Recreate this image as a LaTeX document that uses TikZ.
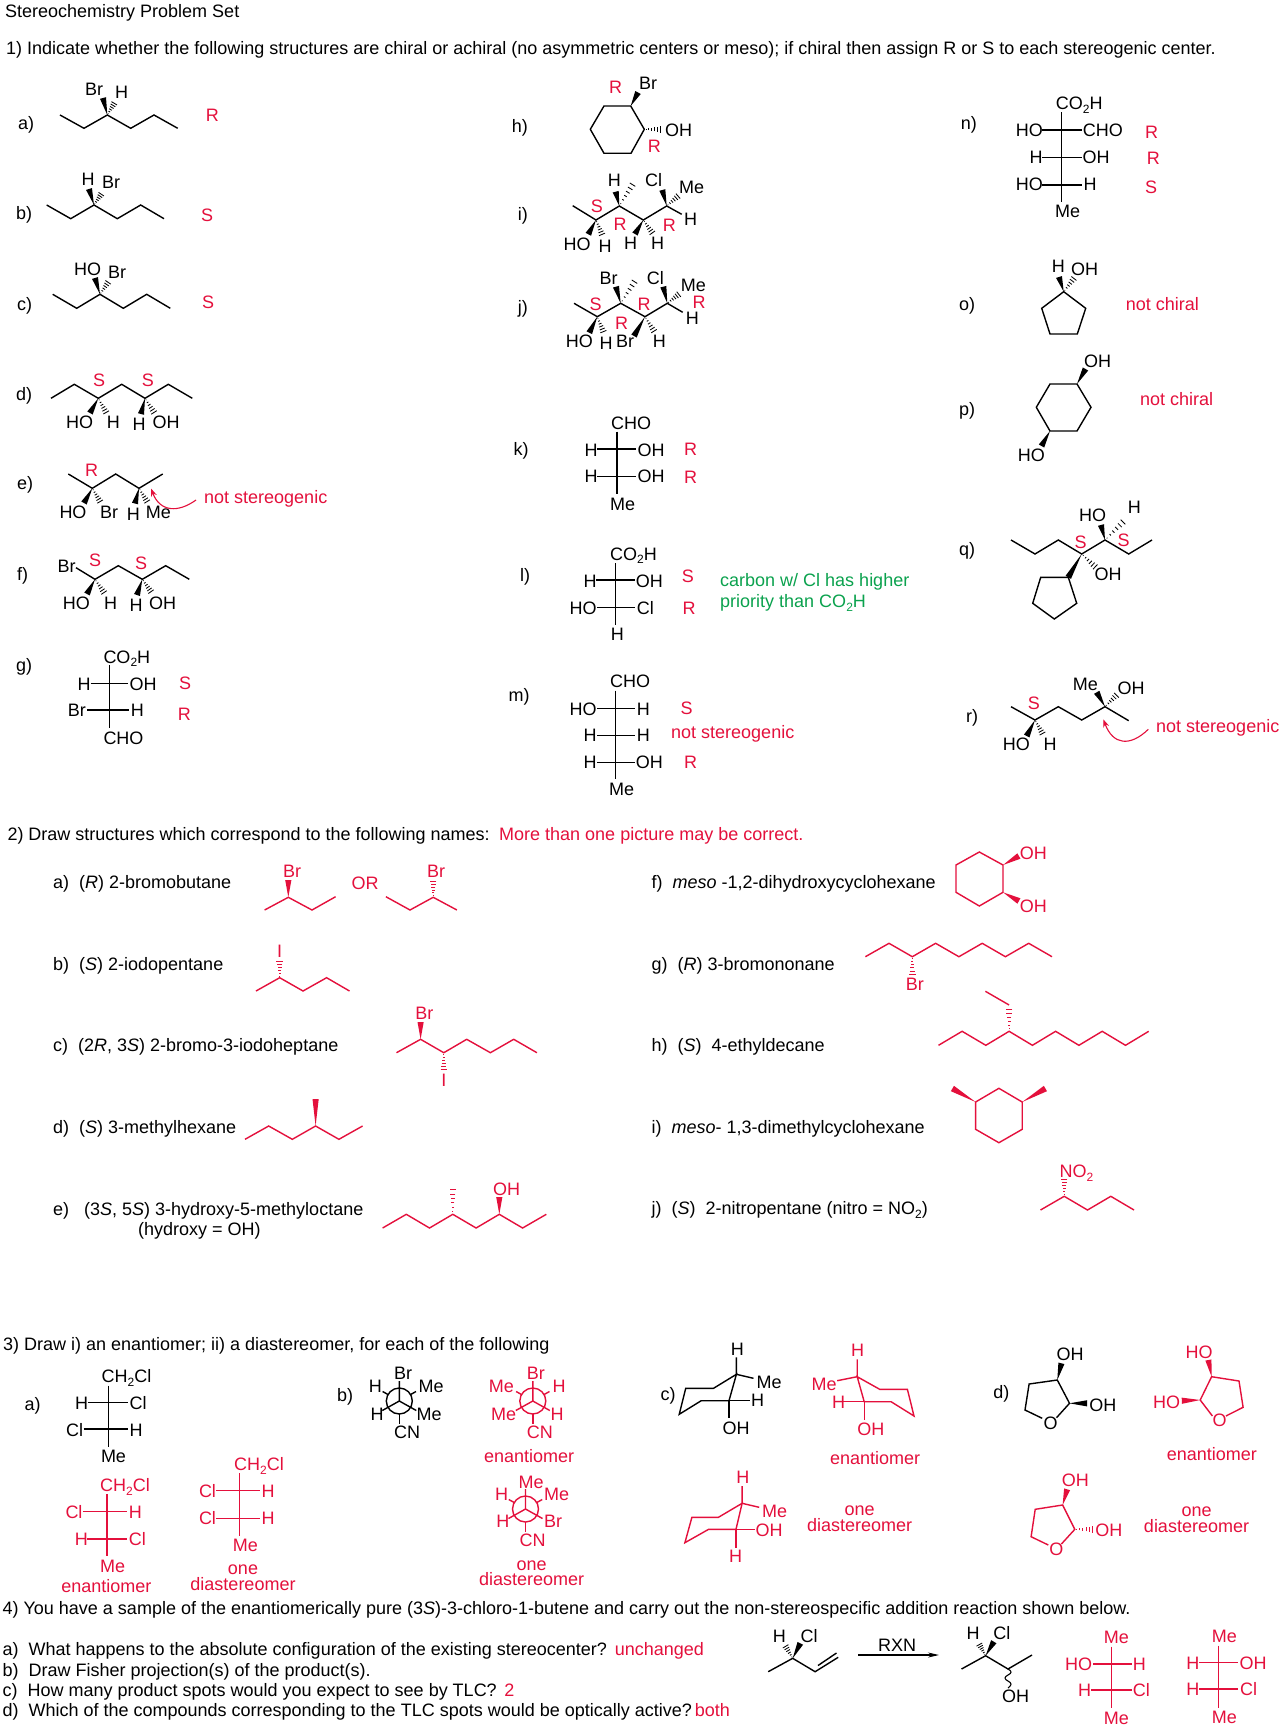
\documentclass[tikz,border=0pt]{standalone}
\usepackage{fontspec}
\setmainfont{Liberation Sans}
\usetikzlibrary{arrows.meta}
\definecolor{cr}{HTML}{E4103C}
\definecolor{cg}{HTML}{0BA24E}
\tikzset{
 lab/.style={inner sep=0pt,font=\fontsize{18}{20}\selectfont},
 bd/.style={line width=1.4pt,line join=miter},
 hs/.style={line width=0.85pt},
 wavy/.style={line width=1.1pt},
 rd/.style={color=cr},
 curvearrow/.style={line width=1.1pt,color=cr,-{Stealth[length=8pt,width=6pt]}},
 rxnarrow/.style={line width=1.1pt,-{Stealth[length=11pt,width=5pt]}}
}
\newcounter{tn}
\newcommand\TxL[3]{\stepcounter{tn}\node[lab,anchor=base west] (t\arabic{tn}) at (#1,#2) {#3};}
\newcommand\TxC[3]{\stepcounter{tn}\node[lab,anchor=base] (t\arabic{tn}) at (#1,#2) {#3};}
\newcommand\sbs[1]{\raisebox{-3.5pt}{\fontsize{12}{12}\selectfont #1}}
\newcommand\Wdg[4]{%
 \pgfmathsetmacro\wl{veclen(#3-#1,#4-#2)}%
 \pgfmathsetmacro\wx{-(#4-#2)/\wl*3.1}%
 \pgfmathsetmacro\wy{(#3-#1)/\wl*3.1}%
 \fill (#1,#2) -- ({#3+\wx},{#4+\wy}) -- ({#3-\wx},{#4-\wy}) -- cycle;}
\newcommand\Hsh[4]{%
 \pgfmathsetmacro\wl{veclen(#3-#1,#4-#2)}%
 \pgfmathsetmacro\ux{-(#4-#2)/\wl}%
 \pgfmathsetmacro\uy{(#3-#1)/\wl}%
 \foreach \hp in {.1,.26,.42,.58,.74,.9}{%
  \pgfmathsetmacro\hw{\hp*3.6}%
  \draw[hs] ({#1+\hp*(#3-#1)+\ux*\hw},{#2+\hp*(#4-#2)+\uy*\hw}) -- ({#1+\hp*(#3-#1)-\ux*\hw},{#2+\hp*(#4-#2)-\uy*\hw});}}
\newcommand\Newman[2]{%
 \draw[bd] (#1,#2) circle[radius=13];
 \draw[bd] (#1,{#2-20}) -- (#1,#2) -- ({#1-17},{#2+9.5});
 \draw[bd] (#1,#2) -- ({#1+17},{#2+9.5});
 \draw[bd] ({#1-11.3},{#2-6.5}) -- ({#1-16.7},{#2-9.5});
 \draw[bd] ({#1+11.3},{#2-6.5}) -- ({#1+16.7},{#2-9.5});
 \draw[bd] (#1,{#2+13}) -- (#1,{#2+23});}
\begin{document}
\begin{tikzpicture}[x=1pt,y=-1pt]
\useasboundingbox[fill=white] (0,0) rectangle (1280,1728);
% ---------- headings
\TxL{5}{18}{Stereochemistry Problem Set}
\TxL{6}{54.5}{1) Indicate whether the following structures are chiral or achiral (no asymmetric centers or meso); if chiral then assign R or S to each stereogenic center.}
% ---------- a
\TxL{18}{130}{a)}
\draw[bd] (60,115)--(84,128.3)--(107.3,115)--(130.7,128.3)--(154,115)--(177.7,128.3);
\Wdg{107.3}{115}{103}{98}\Hsh{107.3}{115}{115}{102}
\TxL{85}{96}{Br}\TxL{115}{99}{H}
\begin{scope}[rd]\TxL{205.7}{121.7}{R}\end{scope}
% ---------- b
\TxL{16}{220}{b)}
\draw[bd] (46.7,205)--(70.7,218.7)--(94,205)--(117.3,218.7)--(140.7,205)--(164,218.7);
\Wdg{94}{205}{89}{189}\Hsh{94}{205}{102}{193}
\TxL{81.5}{186}{H}\TxL{102}{189}{Br}
\begin{scope}[rd]\TxL{201}{221.5}{S}\end{scope}
% ---------- c
\TxL{17}{310}{c)}
\draw[bd] (52.7,294.3)--(76.7,308.3)--(100,294.3)--(123.3,308.3)--(146.7,294.3)--(170.3,308.3);
\Wdg{100}{294.3}{95}{278}\Hsh{100}{294.3}{109}{281}
\TxL{74}{276}{HO}\TxL{108}{278}{Br}
\begin{scope}[rd]\TxL{202}{308}{S}\end{scope}
% ---------- d
\TxL{16}{400}{d)}
\draw[bd] (51,398.3)--(74.3,384.3)--(98.3,398.3)--(121.7,384.3)--(145,398.3)--(168.3,384.3)--(192.3,398.3);
\Wdg{98.3}{398.3}{90}{413}\Hsh{98.3}{398.3}{107}{414}
\Wdg{145}{398.3}{141}{414}\Hsh{145}{398.3}{155}{414}
\TxL{66}{428.3}{HO}\TxL{106.7}{428.3}{H}\TxL{132.3}{430.7}{H}\TxL{152.3}{428.3}{OH}
\begin{scope}[rd]\TxL{93}{386}{S}\TxL{141.7}{386}{S}\end{scope}
% ---------- e
\TxL{17}{489.5}{e)}
\draw[bd] (68.3,474)--(92.3,488.3)--(115.7,474)--(139,488.3)--(162.7,474);
\Wdg{92.3}{488.3}{84}{503}\Hsh{92.3}{488.3}{101}{503}
\Wdg{139}{488.3}{135}{503.5}\Hsh{139}{488.3}{148}{503}
\TxL{59.3}{518.3}{HO}\TxL{100}{518.3}{Br}\TxL{126.7}{520.7}{H}\TxL{145.7}{518.3}{Me}
\begin{scope}[rd]\TxL{85}{476}{R}\TxL{204}{503.3}{not stereogenic}\end{scope}
\coordinate (e1) at (196,500);\coordinate (e2) at (151,488.5);
\draw[curvearrow] (e1) .. controls (178,513) and (160,512) .. (e2);
% ---------- f
\TxL{17}{580}{f)}
\TxL{57.3}{572.7}{Br}
\draw[bd] (76,567.7)--(95,579.3)--(118.3,565.7)--(142.3,579.3)--(165.7,565.7)--(189.3,579.3);
\Wdg{95}{579.3}{87}{594}\Hsh{95}{579.3}{105}{594}
\Wdg{142.3}{579.3}{137}{595}\Hsh{142.3}{579.3}{152}{593}
\TxL{62.7}{609.3}{HO}\TxL{104}{609.3}{H}\TxL{129.3}{611.7}{H}\TxL{149}{609.3}{OH}
\begin{scope}[rd]\TxL{89}{566.7}{S}\TxL{135}{569}{S}\end{scope}
% ---------- g
\TxL{16}{671.7}{g)}
\draw[bd] (109.3,665)--(109.3,728.3);
\draw[bd] (90.7,683.3)--(127.7,683.3);
\draw[bd] (87.3,710)--(129.3,710);
\TxL{103.3}{663.3}{CO\sbs{2}H}\TxL{77.3}{690}{H}\TxL{129.3}{690}{OH}\TxL{67.7}{716.7}{Br}\TxL{130.7}{716.7}{H}\TxL{103.3}{744}{CHO}
\begin{scope}[rd]\TxL{179}{689}{S}\TxL{177.7}{720}{R}\end{scope}
% ---------- h
\TxL{511.7}{132.7}{h)}
\draw[bd] (604,106)--(630.7,106)--(644.3,129.3)--(631,153.3)--(604,153.3)--(590.3,129.3)--cycle;
\Wdg{630.7}{106}{638}{92.5}\Hsh{644.3}{129.3}{662}{129.3}
\TxL{639}{90}{Br}\TxL{665}{136.7}{OH}
\begin{scope}[rd]\TxL{609}{94}{R}\TxL{647.7}{152.3}{R}\end{scope}
% ---------- i
\TxL{517.7}{220.7}{i)}
\draw[bd] (572.7,205.7)--(596,220)--(619.3,206)--(643.3,220)--(666.7,206)--(681.7,214.3);
\Wdg{596}{220}{588.3}{234.3}\Hsh{596}{220}{602.7}{236}
\Wdg{619.3}{206}{615.7}{191.7}\Hsh{619.3}{206}{634}{182.3}
\Wdg{643.3}{220}{635}{234}\Hsh{643.3}{220}{653.3}{234.3}
\Wdg{666.7}{206}{662.3}{190}\Hsh{666.7}{206}{679.3}{195}
\TxL{607.7}{186.7}{H}\TxL{645}{186.7}{Cl}\TxL{679}{194}{Me}\TxL{684}{226}{H}\TxL{563.3}{250.7}{HO}\TxL{598.3}{252.7}{H}\TxL{624}{250}{H}\TxL{651}{250}{H}
\begin{scope}[rd]\TxL{590.7}{212.7}{S}\TxL{613.3}{231}{R}\TxL{662.7}{231.7}{R}\end{scope}
% ---------- j
\TxL{517.7}{313}{j)}
\draw[bd] (574,303.3)--(597.3,316.7)--(620.7,303.3)--(645,316.7)--(667.3,303.3)--(682.7,312.3);
\Wdg{597.3}{316.7}{589.3}{332.7}\Hsh{597.3}{316.7}{604}{333.3}
\Wdg{620.7}{303.3}{616}{286.7}\Hsh{620.7}{303.3}{636}{279.3}
\Wdg{645}{316.7}{634}{336}\Hsh{645}{316.7}{655}{332.7}
\Wdg{667.3}{303.3}{663.3}{286.7}\Hsh{667.3}{303.3}{680}{293.3}
\TxL{599.3}{284.3}{Br}\TxL{646.7}{284.3}{Cl}\TxL{680.7}{291.7}{Me}\TxL{685.7}{324}{H}\TxL{565.7}{347.3}{HO}\TxL{599.3}{349.3}{H}\TxL{616}{347.3}{Br}\TxL{652.7}{347.3}{H}
\begin{scope}[rd]\TxL{589.3}{310}{S}\TxL{637.3}{310}{R}\TxL{615}{329.3}{R}\TxL{692.3}{308.3}{R}\end{scope}
% ---------- k
\TxL{513.3}{455}{k)}
\draw[bd] (617,431.7)--(617,494);
\draw[bd] (597.3,449)--(636,449);
\draw[bd] (597.3,476.7)--(636,476.7);
\TxL{611}{429.3}{CHO}\TxL{584.3}{456}{H}\TxL{637.3}{456}{OH}\TxL{584.3}{482.7}{H}\TxL{637.3}{482.7}{OH}\TxL{610}{510}{Me}
\begin{scope}[rd]\TxL{684}{455}{R}\TxL{684}{483.3}{R}\end{scope}
% ---------- l
\TxL{520}{581.7}{l)}
\draw[bd] (615.3,563.3)--(615.3,625);
\draw[bd] (596,580)--(635,580);
\draw[bd] (597.3,607.3)--(635,607.3);
\TxL{610}{560}{CO\sbs{2}H}\TxL{583.3}{587.3}{H}\TxL{635.7}{587.3}{OH}\TxL{569.3}{614}{HO}\TxL{636.7}{614}{Cl}\TxL{610.7}{640.7}{H}
\begin{scope}[rd]\TxL{681.7}{582.7}{S}\TxL{682.3}{614}{R}\end{scope}
\begin{scope}[color=cg]\TxL{720}{586.7}{carbon w/ Cl has higher}\TxL{720}{607.7}{priority than CO\sbs{2}H}\end{scope}
% ---------- m
\TxL{508.3}{701.7}{m)}
\draw[bd] (615.3,690.7)--(615.3,779.3);
\draw[bd] (597.3,708.3)--(635,708.3);
\draw[bd] (597.3,735.7)--(635,735.7);
\draw[bd] (597.3,762.3)--(635,762.3);
\TxL{610}{687.3}{CHO}\TxL{569.3}{715}{HO}\TxL{636.7}{715}{H}\TxL{583.3}{741.7}{H}\TxL{636.7}{741.7}{H}\TxL{583.3}{768.3}{H}\TxL{635.7}{768.3}{OH}\TxL{609}{795.7}{Me}
\begin{scope}[rd]\TxL{680.3}{714.3}{S}\TxL{671}{738.3}{not stereogenic}\TxL{684}{768.3}{R}\end{scope}
% ---------- n
\TxL{960.7}{130}{n)}
\draw[bd] (1061.7,112.3)--(1061.7,201.7);
\draw[bd] (1042.3,130)--(1081.7,130);
\draw[bd] (1042.3,157.3)--(1081.7,157.3);
\draw[bd] (1042.3,185)--(1081.7,185);
\TxL{1055.7}{110}{CO\sbs{2}H}\TxL{1015.7}{136.7}{HO}\TxL{1082.7}{136.7}{CHO}\TxL{1029.3}{164}{H}\TxL{1082.3}{164}{OH}\TxL{1015.7}{191}{HO}\TxL{1083.3}{191}{H}\TxL{1055}{217.7}{Me}
\begin{scope}[rd]\TxL{1145}{138.3}{R}\TxL{1146.7}{165}{R}\TxL{1145}{193.3}{S}\end{scope}
% ---------- o
\TxL{959}{310}{o)}
\draw[bd] (1063.7,291.7)--(1085.7,308.3)--(1077.3,334)--(1050,334)--(1041.7,308.3)--cycle;
\Wdg{1063.7}{291.7}{1059}{277}\Hsh{1063.7}{291.7}{1075}{277}
\TxL{1051.7}{272.7}{H}\TxL{1071}{275.7}{OH}
\begin{scope}[rd]\TxL{1125.7}{310}{not chiral}\end{scope}
% ---------- p
\TxL{959}{415}{p)}
\draw[bd] (1050,384)--(1077,384)--(1091,407.3)--(1077,431)--(1050,431)--(1036.3,407.3)--cycle;
\Wdg{1077}{384}{1085.5}{369}\Wdg{1050}{431}{1041.5}{446}
\TxL{1084}{367.7}{OH}\TxL{1017.7}{461}{HO}
\begin{scope}[rd]\TxL{1140}{405.7}{not chiral}\end{scope}
% ---------- q
\TxL{959}{555}{q)}
\draw[bd] (1011,540)--(1035,554)--(1058.3,540)--(1081.7,554)--(1105,540)--(1128.7,554)--(1152,540);
\Wdg{1081.7}{554}{1068.3}{577.3}\Hsh{1081.7}{554}{1096.7}{568.3}
\draw[bd] (1068.3,577.3)--(1076.7,603.3)--(1054.3,619)--(1032.7,603.3)--(1040.7,577.3)--cycle;
\Wdg{1105}{540}{1101}{525}\Hsh{1105}{540}{1125}{520}
\TxL{1094.3}{580}{OH}\TxL{1079}{521.7}{HO}\TxL{1127.7}{513.3}{H}
\begin{scope}[rd]\TxL{1074.3}{548.3}{S}\TxL{1117.3}{546}{S}\end{scope}
% ---------- r
\TxL{966}{722.7}{r)}
\draw[bd] (1011,706.7)--(1035,720)--(1058.3,706.7)--(1081.7,720)--(1105,706.7)--(1128.7,720.7);
\Wdg{1035}{720}{1026.7}{736}\Hsh{1035}{720}{1043.3}{735}
\Wdg{1105}{706.7}{1096.7}{692.3}\Hsh{1105}{706.7}{1117.7}{694}
\TxL{1072.7}{690}{Me}\TxL{1117.3}{694}{OH}\TxL{1002.7}{750}{HO}\TxL{1043.3}{750}{H}
\begin{scope}[rd]\TxL{1027.7}{709.3}{S}\TxL{1156}{732.7}{not stereogenic}\end{scope}
\coordinate (r1) at (1148.3,729.3);\coordinate (r2) at (1103.3,719.3);
\draw[curvearrow] (r1) .. controls (1130,747) and (1113,745) .. (r2);
% ========== section 2
\TxL{7.3}{840.7}{2) Draw structures which correspond to the following names:}
\begin{scope}[rd]\TxL{499}{840.7}{More than one picture may be correct.}\end{scope}
\TxL{53}{888.3}{a)\ \ (\textit{R}) 2-bromobutane}
\TxL{53}{970.7}{b)\ \ (\textit{S}) 2-iodopentane}
\TxL{53}{1051.7}{c)\ \ (2\textit{R}, 3\textit{S}) 2-bromo-3-iodoheptane}
\TxL{53}{1133.7}{d)\ \ (\textit{S}) 3-methylhexane}
\TxL{53}{1215.3}{e)\ \ \ (3\textit{S}, 5\textit{S}) 3-hydroxy-5-methyloctane}
\TxL{138}{1235.5}{(hydroxy = OH)}
\TxL{651.4}{888.6}{f)\ \ \textit{meso} -1,2-dihydroxycyclohexane}
\TxL{651.4}{970}{g)\ \ (\textit{R}) 3-bromononane}
\TxL{651.4}{1051}{h)\ \ (\textit{S})\ \ 4-ethyldecane}
\TxL{651.4}{1133.7}{i)\ \ \textit{meso}- 1,3-dimethylcyclohexane}
\TxL{651.4}{1214.8}{j)\ \ (\textit{S})\ \ 2-nitropentane (nitro = NO\sbs{2})}
\begin{scope}[rd]
\draw[bd] (264.6,910)--(288.3,897.3)--(312,910)--(335.6,896.7);
\Wdg{288.3}{897.3}{288.3}{880}\TxL{282.8}{877.3}{Br}\TxL{351.4}{889.3}{OR}
\draw[bd] (385.9,896.7)--(410,910)--(433.2,897.3)--(456.9,910);
\Hsh{433.2}{897.3}{433.2}{880}\TxL{426.9}{877.3}{Br}
\draw[bd] (256,991)--(279.7,977.7)--(303,991)--(326.6,977.7)--(349.5,991);
\Hsh{279.7}{977.7}{279.7}{960}\TxC{279.7}{957.3}{I}
\draw[bd] (396.5,1052.7)--(420.6,1039.3)--(443.8,1052.7)--(466.7,1039.3)--(490.4,1052.7)--(513.7,1039.3)--(536.9,1052.7);
\Wdg{420.6}{1039.3}{420.6}{1022}\TxL{415.2}{1019.3}{Br}
\Hsh{443.8}{1052.7}{443.8}{1071}\TxC{443.8}{1086.7}{I}
\draw[bd] (245,1139.3)--(268.7,1126)--(292.3,1139.3)--(315.6,1126)--(338.9,1139.3)--(362.6,1126);
\Wdg{315.6}{1126}{315.6}{1099}
\draw[bd] (382.6,1228)--(406.3,1214.3)--(429.5,1228)--(452.8,1214.3)--(476.1,1228)--(499.3,1214.3)--(522.6,1228)--(546.3,1214.3);
\Hsh{452.8}{1214.3}{452.8}{1187}\Wdg{499.3}{1214.3}{499.3}{1197}\TxL{492.8}{1195}{OH}
\draw[bd] (979.3,852)--(1003,865)--(1003,892.3)--(979.3,906)--(956,892.3)--(956,865)--cycle;
\Wdg{1003}{865}{1018.9}{856}\Wdg{1003}{892.3}{1018.9}{901}
\TxL{1019.7}{859.3}{OH}\TxL{1019.7}{912.7}{OH}
\draw[bd] (865.4,956.7)--(889,943.3)--(912.3,956.7)--(935.6,943.3)--(958.9,956.7)--(982.2,943.3)--(1005.4,956.7)--(1028.7,943.3)--(1052,956.7);
\Hsh{912.3}{956.7}{912.3}{976}\TxL{905.6}{990.7}{Br}
\draw[bd] (938.5,1045.3)--(962.1,1031.3)--(985.8,1045.3)--(1009.1,1031.3)--(1032.4,1045.3)--(1055.6,1031.3)--(1078.9,1045.3)--(1102.2,1031.3)--(1125.5,1045.3)--(1148.7,1031.3);
\Hsh{1009.1}{1031.3}{1009.1}{1007}
\draw[bd] (1009.1,1005)--(985.4,991.3);
\draw[bd] (975.6,1102)--(998.9,1088.3)--(1022.2,1102)--(1022.2,1129.3)--(998.9,1142.7)--(975.6,1129.3)--cycle;
\Wdg{975.6}{1102}{952.4}{1088.5}\Wdg{1022.2}{1102}{1045.4}{1088.5}
\draw[bd] (1040.5,1210)--(1064.2,1196.3)--(1087.5,1210)--(1110.8,1196.3)--(1134,1210);
\Hsh{1064.2}{1196.3}{1064.2}{1178}\TxL{1059.3}{1177.7}{NO\sbs{2}}
\end{scope}
% ========== section 3
\TxL{3}{1350.7}{3) Draw i) an enantiomer; ii) a diastereomer, for each of the following}
\TxL{24.5}{1410}{a)}
\draw[bd] (108.2,1385.7)--(108.2,1446.7);
\draw[bd] (87.8,1402.3)--(127.8,1402.3);
\draw[bd] (83.7,1429)--(127.8,1429);
\TxL{101.5}{1382.7}{CH\sbs{2}Cl}\TxL{75}{1409}{H}\TxL{129.4}{1409}{Cl}\TxL{66}{1436}{Cl}\TxL{129.4}{1436}{H}\TxL{100.8}{1462.7}{Me}
\begin{scope}[rd]
\draw[bd] (107,1494.3)--(107,1556);
\draw[bd] (82.9,1511.7)--(126.6,1511.7);
\draw[bd] (87,1539)--(126.6,1539);
\TxL{100}{1491.7}{CH\sbs{2}Cl}\TxL{65.3}{1518.3}{Cl}\TxL{128.6}{1518.3}{H}\TxL{74.7}{1545}{H}\TxL{128.6}{1545}{Cl}\TxL{100}{1572.3}{Me}\TxL{61.2}{1592.7}{enantiomer}
\draw[bd] (239.7,1473.3)--(239.7,1535.7);
\draw[bd] (216.4,1490.7)--(260.1,1490.7);
\draw[bd] (216.4,1518.3)--(260.1,1518.3);
\TxL{234}{1470.5}{CH\sbs{2}Cl}\TxL{198.8}{1497.3}{Cl}\TxL{261.3}{1497.3}{H}\TxL{198.8}{1524.3}{Cl}\TxL{261.3}{1524.3}{H}\TxL{232.7}{1551.7}{Me}
\TxC{243}{1574}{one}\TxC{243}{1590.3}{diastereomer}
\end{scope}
\TxL{336.8}{1401.7}{b)}
\Newman{399.3}{1401}
\TxL{394}{1379.3}{Br}\TxL{368.7}{1392.3}{H}\TxL{418.5}{1392.3}{Me}\TxL{370.3}{1420.7}{H}\TxL{416.5}{1420.7}{Me}\TxL{394}{1438.3}{CN}
\begin{scope}[rd]
\Newman{532.8}{1401}
\TxL{526.7}{1379.3}{Br}\TxL{488.7}{1392.3}{Me}\TxL{552.4}{1392.3}{H}\TxL{490.8}{1420.7}{Me}\TxL{550.4}{1420.7}{H}\TxL{526.7}{1438.3}{CN}\TxL{483.8}{1462.7}{enantiomer}
\Newman{525.5}{1509}
\TxL{518.5}{1488.3}{Me}\TxL{494.9}{1500}{H}\TxL{543.8}{1500}{Me}\TxL{496.1}{1527.3}{H}\TxL{543.8}{1527.3}{Br}\TxL{519.4}{1546}{CN}
\TxC{531.6}{1570}{one}\TxC{531.6}{1585}{diastereomer}
\end{scope}
\TxL{660.4}{1400}{c)}
\draw[bd] (736.4,1357.3)--(736.4,1374.3)--(753.5,1378.3);
\draw[bd] (736.4,1374.3)--(713.5,1388.3)--(685.7,1388.3)--(679.2,1414.3)--(701.2,1400.7)--(729,1400.7)--cycle;
\draw[bd] (729,1400.7)--(729,1418.3);
\draw[bd] (729,1400.7)--(750.2,1400.7);
\TxL{730.6}{1355}{H}\TxL{756.4}{1388.3}{Me}\TxL{751}{1406.7}{H}\TxL{722.5}{1434.3}{OH}
\begin{scope}[rd]
\draw[bd] (857.2,1359.3)--(857.2,1376.7)--(837.2,1380.7);
\draw[bd] (857.2,1376.7)--(879.7,1389.3)--(907.4,1389.3)--(914,1416)--(891.1,1401.7)--(864.2,1401.7)--cycle;
\draw[bd] (864.2,1401.7)--(864.2,1420);
\draw[bd] (864.2,1401.7)--(843.3,1401.7);
\TxL{851}{1356}{H}\TxL{811.3}{1390}{Me}\TxL{831.9}{1408.3}{H}\TxL{857.2}{1435.7}{OH}\TxL{829.9}{1464}{enantiomer}
\draw[bd] (742.1,1486)--(742.1,1503.3)--(759.2,1507.3);
\draw[bd] (742.1,1503.3)--(718.4,1517.3)--(691.9,1517.3)--(684.9,1542.7)--(708.6,1529.3)--(736,1529.3)--cycle;
\draw[bd] (736,1529.3)--(755.1,1529.3);
\draw[bd] (736,1529.3)--(736,1548.3);
\TxL{736.2}{1483.3}{H}\TxL{762}{1517.3}{Me}\TxL{755.5}{1536}{OH}\TxL{729}{1562.7}{H}
\TxC{859.7}{1515}{one}\TxC{859.7}{1531.5}{diastereomer}
\end{scope}
\TxL{993.2}{1398.3}{d)}
\draw[bd] (1042.2,1418.3)--(1025,1410)--(1029.1,1384)--(1057.3,1380)--(1069.5,1403.3)--(1056.5,1417.7);
\Wdg{1057.3}{1380}{1061.4}{1363.3}\Wdg{1069.5}{1403.3}{1087.1}{1403.3}
\TxL{1056.3}{1360.7}{OH}\TxL{1089.1}{1411}{OH}\TxL{1043.4}{1429.3}{O}
\begin{scope}[rd]
\draw[bd] (1225.9,1416)--(1243.1,1407.3)--(1239,1381)--(1211.6,1376.7)--(1200.2,1400)--(1212.4,1416);
\Wdg{1211.6}{1376.7}{1208.4}{1360}\Wdg{1200.2}{1400}{1181.8}{1400.7}
\TxL{1185.3}{1358.2}{HO}\TxL{1153}{1408.3}{HO}\TxL{1212.4}{1426}{O}\TxL{1166.7}{1460}{enantiomer}
\draw[bd] (1048.3,1545)--(1031.1,1536.7)--(1035.2,1509.3)--(1062.6,1505)--(1074.8,1529.3)--(1061.4,1544);
\Wdg{1062.6}{1505}{1067.1}{1489.3}\Hsh{1074.8}{1529.3}{1094}{1529.3}
\TxL{1061.6}{1486.7}{OH}\TxL{1095.2}{1536.7}{OH}\TxL{1049.1}{1555.7}{O}
\TxC{1196.5}{1516.7}{one}\TxC{1196.5}{1532.8}{diastereomer}
\end{scope}
% ========== section 4
\TxL{2.4}{1614.5}{4) You have a sample of the enantiomerically pure (3\textit{S})-3-chloro-1-butene and carry out the non-stereospecific addition reaction shown below.}
\TxL{2.4}{1655}{a)\ \ What happens to the absolute configuration of the existing stereocenter?}
\TxL{2.4}{1676}{b)\ \ Draw Fisher projection(s) of the product(s).}
\TxL{2.4}{1696.7}{c)\ \ How many product spots would you expect to see by TLC?}
\TxL{2.4}{1716.7}{d)\ \ Which of the compounds corresponding to the TLC spots would be optically active?}
\begin{scope}[rd]\TxL{614.7}{1655}{unchanged}\TxL{504.2}{1696.7}{2}\TxL{694.7}{1716.7}{both}\end{scope}
\draw[bd] (768.2,1671.7)--(792.7,1658.3)--(815.1,1671.7)--(838.2,1657.3);
\draw[bd] (818,1665.5)--(836.5,1653);
\Wdg{792.7}{1658.3}{800.3}{1643.3}\Hsh{792.7}{1658.3}{784.8}{1645}
\TxL{772.7}{1642.3}{H}\TxL{800.3}{1642.3}{Cl}
\coordinate (rx1) at (858.1,1655);\coordinate (rx2) at (939,1655);
\draw[rxnarrow] (rx1) -- (rx2);
\TxL{878}{1651}{RXN}
\draw[bd] (961.5,1669)--(985.6,1655.7)--(1008,1669)--(1032,1655);
\Wdg{985.6}{1655.7}{993.8}{1641.7}\Hsh{985.6}{1655.7}{978.7}{1643.3}
\draw[wavy] (1008,1669) .. controls (1012,1671) and (1012,1673) .. (1008,1675) .. controls (1004,1677) and (1004,1679) .. (1008,1681) .. controls (1012,1683) and (1012,1685) .. (1008,1688);
\TxL{966.3}{1639}{H}\TxL{993.1}{1639}{Cl}\TxL{1002}{1702.7}{OH}
\begin{scope}[rd]
\draw[bd] (1111.3,1646.7)--(1111.3,1708.3);
\draw[bd] (1093,1664)--(1131.6,1664);
\draw[bd] (1091.3,1690)--(1131.6,1690);
\TxL{1103.6}{1643.3}{Me}\TxL{1065}{1670.7}{HO}\TxL{1132.6}{1670.7}{H}\TxL{1078}{1696.7}{H}\TxL{1132.6}{1696.7}{Cl}\TxL{1103.6}{1724.3}{Me}
\draw[bd] (1218.7,1645.7)--(1218.7,1707.7);
\draw[bd] (1199.1,1662.3)--(1238.4,1662.3);
\draw[bd] (1199.1,1689)--(1238.4,1689);
\TxL{1211.7}{1642.3}{Me}\TxL{1186.2}{1669}{H}\TxL{1239.4}{1669}{OH}\TxL{1186.2}{1695.7}{H}\TxL{1240}{1695.7}{Cl}\TxL{1211.7}{1723.3}{Me}
\end{scope}
\end{tikzpicture}
\end{document}
